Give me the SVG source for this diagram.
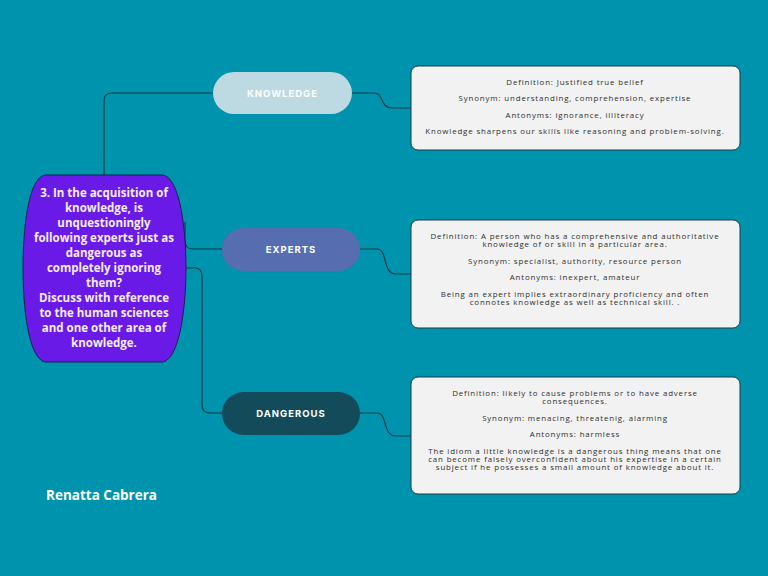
<svg xmlns="http://www.w3.org/2000/svg" width="768" height="576" viewBox="0 0 768 576">
<style>
.bg{fill:#0093ad}
.conn{fill:none;stroke:#113a47;stroke-width:1.2}
.pilltxt{font-family:Inter,"Open Sans",sans-serif;font-weight:700;font-size:9.5px;letter-spacing:1px;fill:#ffffff;text-anchor:middle}
.box{fill:#f2f2f2;stroke:#1d3a45;stroke-width:1}
.bt{font-family:"Open Sans","DejaVu Sans",sans-serif;font-size:7.9px;fill:#2e2e2e;text-anchor:middle;letter-spacing:0.85px}
.ct{font-family:"Open Sans",Inter,sans-serif;font-weight:700;font-size:11.5px;fill:#f3ecfb;text-anchor:middle}
</style>
<rect class="bg" x="0" y="0" width="768" height="576"/>
<g id="connectors">
<path class="conn" d="M104,175 V101 Q104,93 112,93 H213"/>
<path class="conn" d="M185,222 V241 Q185,249 193,249 H222"/>
<path class="conn" d="M186,268 H195 Q202,268 202,276 V405 Q202,413 210,413 H222"/>
<path class="conn" d="M352,93 H374 C384,93 380,108 392,108 H411"/>
<path class="conn" d="M360,249 H377 C388,249 382,274 396,274 H411"/>
<path class="conn" d="M360,413 H377 C388,413 382,436 396,436 H411"/>
</g>
<g id="central">
<path d="M45,175 H163 C180,178 186,230 186,268 C186,306 180,358 163,362 H45 C28,358 23,306 23,268 C23,230 28,178 45,175 Z" fill="#6a1ae6" stroke="#1a2050" stroke-width="1"/>
<text class="ct" x="104" y="197">3. In the acquisition of</text>
<text class="ct" x="104" y="212">knowledge, is</text>
<text class="ct" x="104" y="227">unquestioningly</text>
<text class="ct" x="104" y="242">following experts just as</text>
<text class="ct" x="104" y="257">dangerous as</text>
<text class="ct" x="104" y="272">completely ignoring</text>
<text class="ct" x="104" y="287">them?</text>
<text class="ct" x="104" y="302">Discuss with reference</text>
<text class="ct" x="104" y="317">to the human sciences</text>
<text class="ct" x="104" y="332">and one other area of</text>
<text class="ct" x="104" y="347">knowledge.</text>
</g>
<g id="knowledge">
<rect x="213" y="72" width="139" height="42" rx="21" fill="#bdd9e1"/>
<text class="pilltxt" x="282.5" y="96.5">KNOWLEDGE</text>
</g>
<g id="experts">
<rect x="222" y="228" width="138" height="43" rx="21.5" fill="#566db0"/>
<text class="pilltxt" x="291" y="252.5">EXPERTS</text>
</g>
<g id="dangerous">
<rect x="222" y="392" width="138" height="43" rx="21.5" fill="#134b5b"/>
<text class="pilltxt" x="291" y="416.5">DANGEROUS</text>
</g>
<g id="knowledge-box">
<rect class="box" x="411" y="66" width="329" height="84" rx="7"/>
<text class="bt" x="575" y="85">Definition: Justified true belief</text>
<text class="bt" x="575" y="101">Synonym: understanding, comprehension, expertise</text>
<text class="bt" x="575" y="118">Antonyms: ignorance, illiteracy</text>
<text class="bt" x="575" y="134">Knowledge sharpens our skills like reasoning and problem-solving.</text>
</g>
<g id="experts-box">
<rect class="box" x="411" y="220" width="329" height="108" rx="7"/>
<text class="bt" x="575" y="239">Definition: A person who has a comprehensive and authoritative<tspan x="575" dy="8">knowledge of or skill in a particular area.</tspan></text>
<text class="bt" x="575" y="264">Synonym: specialist, authority, resource person</text>
<text class="bt" x="575" y="280">Antonyms: inexpert, amateur</text>
<text class="bt" x="575" y="297">Being an expert implies extraordinary proficiency and often<tspan x="575" dy="8">connotes knowledge as well as technical skill. .</tspan></text>
</g>
<g id="dangerous-box">
<rect class="box" x="411" y="377" width="329" height="117" rx="7"/>
<text class="bt" x="575" y="396">Definition: likely to cause problems or to have adverse<tspan x="575" dy="8">consequences.</tspan></text>
<text class="bt" x="575" y="421">Synonym: menacing, threatenig, alarming</text>
<text class="bt" x="575" y="437">Antonyms: harmless</text>
<text class="bt" x="575" y="454">The idiom a little knowledge is a dangerous thing means that one<tspan x="575" dy="8">can become falsely overconfident about his expertise in a certain</tspan><tspan x="575" dy="8">subject if he possesses a small amount of knowledge about it.</tspan></text>
</g>
<g id="author">
<text x="46" y="500" font-family="'Open Sans',sans-serif" font-weight="700" font-size="13.5px" fill="#ffffff">Renatta Cabrera</text>
</g>
</svg>
